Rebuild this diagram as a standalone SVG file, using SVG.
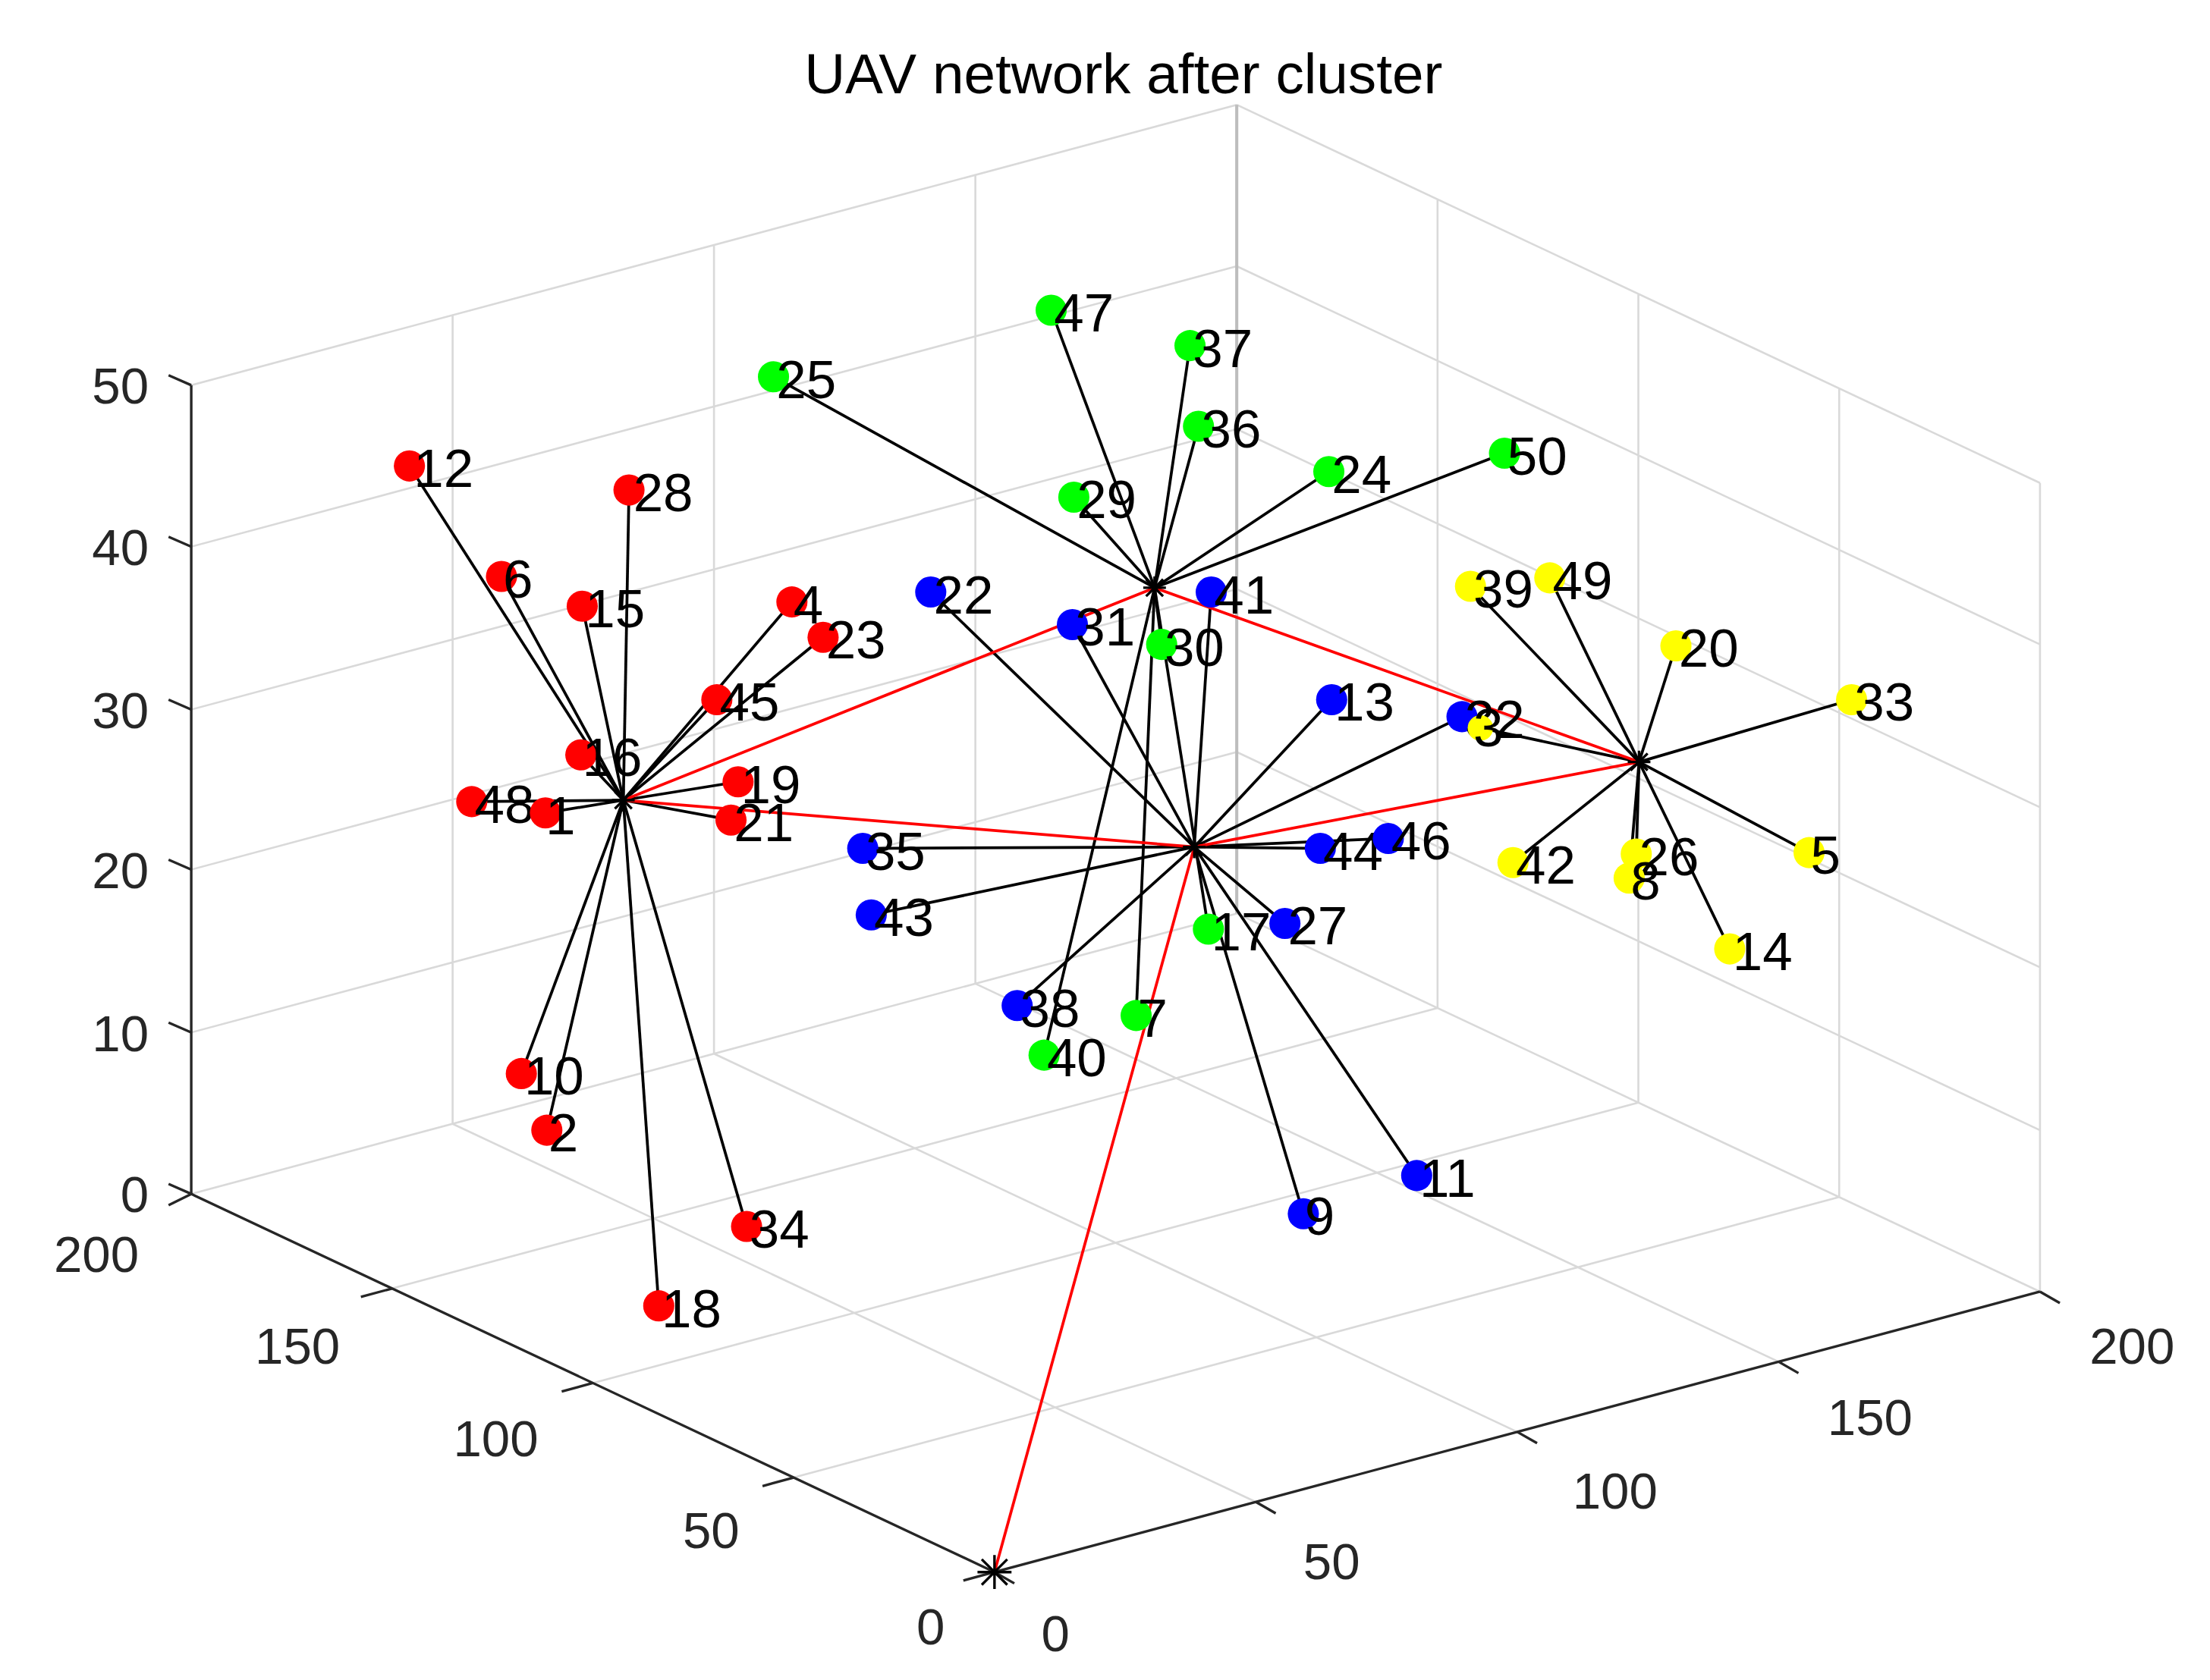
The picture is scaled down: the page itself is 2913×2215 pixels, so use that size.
<svg xmlns="http://www.w3.org/2000/svg" width="2913" height="2215" viewBox="0 0 2913 2215">
<style>
.g{stroke:#d9d9d9;stroke-width:1.4;fill:none}
.ax{stroke:#262626;stroke-width:1.8;fill:none}
.tk{font-family:"Liberation Sans",Arial,sans-serif;font-size:36px;fill:#262626}
.e line{stroke:#000;stroke-width:2}
.rl line{stroke:#f00;stroke-width:2}
.lb{font-family:"Liberation Sans",Arial,sans-serif;font-size:38px;fill:#000}
.r{fill:#f00}.b{fill:#00f}.gr{fill:#0f0}.y{fill:#ff0}
.st{stroke:#000;stroke-width:1.8}
</style>
<rect width="2913" height="2215" fill="#fff"/>
<g transform="scale(1.8673)">
<text x="793" y="66" text-anchor="middle" font-family="Liberation Sans,Arial,sans-serif" font-size="40" fill="#000">UAV network after cluster</text>
<g id="grid">
<path class="g" d="M886.5,1060.5L319.5,793.5M1071,1011L504,744M1255.5,961.5L688.5,694.5M1440,912L873,645M560.25,1043.25L1298.25,845.25M418.5,976.5L1156.5,778.5M276.75,909.75L1014.75,711.75M135,843L873,645"/>
<path class="g" d="M319.5,793.5V222.5M504,744V173M688.5,694.5V123.5M135,729L873,531M135,614L873,416M135,501L873,303M135,386L873,188M135,272L873,74"/>
<path class="g" d="M1298.25,845.25V274.25M1156.5,778.5V207.5M1014.75,711.75V140.75M1440,912V341M1440,798L873,531M1440,683L873,416M1440,570L873,303M1440,455L873,188M1440,341L873,74"/>
<path d="M873,645V74" stroke="#bdbdbd" stroke-width="2.2" fill="none"/>
</g>
<g id="axes">
<path class="ax" d="M135,272V843L702,1110L1440,912"/>
<path class="ax" d="M135,272l-16,-7M135,386l-16,-7M135,501l-16,-7M135,614l-16,-7M135,729l-16,-7M135,843l-16,-7M135,843l-16,8M276.75,909.75l-22,6M418.5,976.5l-22,6M560.25,1043.25l-22,6M702,1110l-22,6M702,1110l14,8M886.5,1060.5l14,8M1071,1011l14,8M1255.5,961.5l14,8M1440,912l14,8"/>
<g class="tk" text-anchor="end">
<text x="105" y="285">50</text><text x="105" y="399">40</text><text x="105" y="514">30</text><text x="105" y="627">20</text><text x="105" y="742">10</text><text x="105" y="856">0</text>
</g>
<g class="tk" text-anchor="middle">
<text x="68" y="898">200</text><text x="210" y="963">150</text><text x="350" y="1028">100</text><text x="502" y="1093">50</text><text x="657" y="1161">0</text>
<text x="745" y="1166">0</text><text x="940" y="1115">50</text><text x="1140" y="1065">100</text><text x="1320" y="1013">150</text><text x="1505" y="963">200</text>
</g>
</g>
<g id="connectors">
<g class="e">
<line x1="440" y1="565" x2="289" y2="329"/><line x1="440" y1="565" x2="444" y2="346"/><line x1="440" y1="565" x2="354" y2="407"/><line x1="440" y1="565" x2="411" y2="428"/><line x1="440" y1="565" x2="559" y2="425"/><line x1="440" y1="565" x2="581" y2="450"/><line x1="440" y1="565" x2="506" y2="494"/><line x1="440" y1="565" x2="410" y2="533"/><line x1="440" y1="565" x2="521" y2="552"/><line x1="440" y1="565" x2="333" y2="566"/><line x1="440" y1="565" x2="385" y2="574"/><line x1="440" y1="565" x2="516" y2="579"/><line x1="440" y1="565" x2="368" y2="758"/><line x1="440" y1="565" x2="386" y2="798"/><line x1="440" y1="565" x2="527" y2="866"/><line x1="440" y1="565" x2="465" y2="922"/>
<line x1="815" y1="415" x2="742" y2="219"/><line x1="815" y1="415" x2="840" y2="244"/><line x1="815" y1="415" x2="546" y2="266"/><line x1="815" y1="415" x2="846" y2="301"/><line x1="815" y1="415" x2="938" y2="333"/><line x1="815" y1="415" x2="1062" y2="320"/><line x1="815" y1="415" x2="758" y2="351"/><line x1="815" y1="415" x2="820" y2="455"/><line x1="815" y1="415" x2="853" y2="656"/><line x1="815" y1="415" x2="802" y2="717"/><line x1="815" y1="415" x2="737" y2="745"/>
<line x1="843" y1="598" x2="657" y2="418"/><line x1="843" y1="598" x2="757" y2="441"/><line x1="843" y1="598" x2="855" y2="418"/><line x1="843" y1="598" x2="940" y2="494"/><line x1="843" y1="598" x2="1032" y2="506"/><line x1="843" y1="598" x2="609" y2="599"/><line x1="843" y1="598" x2="615" y2="646"/><line x1="843" y1="598" x2="932" y2="599"/><line x1="843" y1="598" x2="980" y2="592"/><line x1="843" y1="598" x2="907" y2="652"/><line x1="843" y1="598" x2="718" y2="710"/><line x1="843" y1="598" x2="920" y2="857"/><line x1="843" y1="598" x2="1000" y2="830"/>
<line x1="1157" y1="538" x2="1038" y2="414"/><line x1="1157" y1="538" x2="1094" y2="408"/><line x1="1157" y1="538" x2="1183" y2="456"/><line x1="1157" y1="538" x2="1307" y2="494"/><line x1="1157" y1="538" x2="1045" y2="514"/><line x1="1157" y1="538" x2="1068" y2="609"/><line x1="1157" y1="538" x2="1155" y2="603"/><line x1="1157" y1="538" x2="1150" y2="620"/><line x1="1157" y1="538" x2="1277" y2="602"/><line x1="1157" y1="538" x2="1221" y2="670"/>
</g>
<g class="rl">
<line x1="702" y1="1110" x2="843" y2="598"/><line x1="843" y1="598" x2="440" y2="565"/><line x1="440" y1="565" x2="815" y2="415"/><line x1="815" y1="415" x2="1157" y2="538"/><line x1="843" y1="598" x2="1157" y2="538"/>
</g>
</g>
<g id="hubs" class="st">
<path d="M432,565h16M440,557v16M434,559l12,12M446,559l-12,12"/>
<path d="M807,415h16M815,407v16M809,409l12,12M821,409l-12,12"/>
<path d="M835,598h16M843,590v16M837,592l12,12M849,592l-12,12"/>
<path d="M1149,538h16M1157,530v16M1151,532l12,12M1163,532l-12,12"/>
<path d="M690,1110h24M702,1098v24M693,1101l18,18M711,1101l-18,18"/>
</g>
<g id="red" class="lb">
<g id="n12"><circle class="r" cx="289" cy="329" r="11"/><text x="292" y="344">12</text></g>
<g id="n28"><circle class="r" cx="444" cy="346" r="11"/><text x="447" y="361">28</text></g>
<g id="n6"><circle class="r" cx="354" cy="407" r="11"/><text x="355" y="422">6</text></g>
<g id="n15"><circle class="r" cx="411" cy="428" r="11"/><text x="413" y="443">15</text></g>
<g id="n4"><circle class="r" cx="559" cy="425" r="11"/><text x="560" y="440">4</text></g>
<g id="n23"><circle class="r" cx="581" cy="450" r="11"/><text x="583" y="465">23</text></g>
<g id="n45"><circle class="r" cx="506" cy="494" r="11"/><text x="508" y="509">45</text></g>
<g id="n16"><circle class="r" cx="410" cy="533" r="11"/><text x="411" y="548">16</text></g>
<g id="n19"><circle class="r" cx="521" cy="552" r="11"/><text x="523" y="567">19</text></g>
<g id="n48"><circle class="r" cx="333" cy="566" r="11"/><text x="335" y="581">48</text></g>
<g id="n1"><circle class="r" cx="385" cy="574" r="11"/><text x="385" y="589">1</text></g>
<g id="n21"><circle class="r" cx="516" cy="579" r="11"/><text x="518" y="594">21</text></g>
<g id="n10"><circle class="r" cx="368" cy="758" r="11"/><text x="370" y="773">10</text></g>
<g id="n2"><circle class="r" cx="386" cy="798" r="11"/><text x="387" y="813">2</text></g>
<g id="n34"><circle class="r" cx="527" cy="866" r="11"/><text x="529" y="881">34</text></g>
<g id="n18"><circle class="r" cx="465" cy="922" r="11"/><text x="467" y="937">18</text></g>
</g>
<g id="green" class="lb">
<g id="n47"><circle class="gr" cx="742" cy="219" r="11"/><text x="744" y="234">47</text></g>
<g id="n37"><circle class="gr" cx="840" cy="244" r="11"/><text x="842" y="259">37</text></g>
<g id="n25"><circle class="gr" cx="546" cy="266" r="11"/><text x="548" y="281">25</text></g>
<g id="n36"><circle class="gr" cx="846" cy="301" r="11"/><text x="848" y="316">36</text></g>
<g id="n24"><circle class="gr" cx="938" cy="333" r="11"/><text x="940" y="348">24</text></g>
<g id="n50"><circle class="gr" cx="1062" cy="320" r="11"/><text x="1064" y="335">50</text></g>
<g id="n29"><circle class="gr" cx="758" cy="351" r="11"/><text x="760" y="366">29</text></g>
<g id="n30"><circle class="gr" cx="820" cy="455" r="11"/><text x="822" y="470">30</text></g>
<g id="n17"><circle class="gr" cx="853" cy="656" r="11"/><text x="855" y="671">17</text></g>
<g id="n7"><circle class="gr" cx="802" cy="717" r="11"/><text x="803" y="732">7</text></g>
<g id="n40"><circle class="gr" cx="737" cy="745" r="11"/><text x="739" y="760">40</text></g>
</g>
<g id="blue" class="lb">
<g id="n22"><circle class="b" cx="657" cy="418" r="11"/><text x="659" y="433">22</text></g>
<g id="n31"><circle class="b" cx="757" cy="441" r="11"/><text x="759" y="456">31</text></g>
<g id="n41"><circle class="b" cx="855" cy="418" r="11"/><text x="857" y="433">41</text></g>
<g id="n13"><circle class="b" cx="940" cy="494" r="11"/><text x="942" y="509">13</text></g>
<g id="n32"><circle class="b" cx="1032" cy="506" r="11"/><text x="1034" y="521">32</text></g>
<g id="n35"><circle class="b" cx="609" cy="599" r="11"/><text x="611" y="614">35</text></g>
<g id="n43"><circle class="b" cx="615" cy="646" r="11"/><text x="617" y="661">43</text></g>
<g id="n44"><circle class="b" cx="932" cy="599" r="11"/><text x="934" y="614">44</text></g>
<g id="n46"><circle class="b" cx="980" cy="592" r="11"/><text x="982" y="607">46</text></g>
<g id="n27"><circle class="b" cx="907" cy="652" r="11"/><text x="909" y="667">27</text></g>
<g id="n38"><circle class="b" cx="718" cy="710" r="11"/><text x="720" y="725">38</text></g>
<g id="n9"><circle class="b" cx="920" cy="857" r="11"/><text x="921" y="872">9</text></g>
<g id="n11"><circle class="b" cx="1000" cy="830" r="11"/><text x="1002" y="845">11</text></g>
</g>
<g id="yellow" class="lb">
<g id="n39"><circle class="y" cx="1038" cy="414" r="11"/><text x="1040" y="429">39</text></g>
<g id="n49"><circle class="y" cx="1094" cy="408" r="11"/><text x="1096" y="423">49</text></g>
<g id="n20"><circle class="y" cx="1183" cy="456" r="11"/><text x="1185" y="471">20</text></g>
<g id="n33"><circle class="y" cx="1307" cy="494" r="11"/><text x="1309" y="509">33</text></g>
<g id="n3"><circle class="y" cx="1045" cy="514" r="9"/><text x="1040" y="527">3</text></g>
<g id="n42"><circle class="y" cx="1068" cy="609" r="11"/><text x="1070" y="624">42</text></g>
<g id="n26"><circle class="y" cx="1155" cy="603" r="11"/><text x="1157" y="618">26</text></g>
<g id="n8"><circle class="y" cx="1150" cy="620" r="11"/><text x="1151" y="635">8</text></g>
<g id="n5"><circle class="y" cx="1277" cy="602" r="11"/><text x="1278" y="617">5</text></g>
<g id="n14"><circle class="y" cx="1221" cy="670" r="11"/><text x="1223" y="685">14</text></g>
</g>
</g>
</svg>
